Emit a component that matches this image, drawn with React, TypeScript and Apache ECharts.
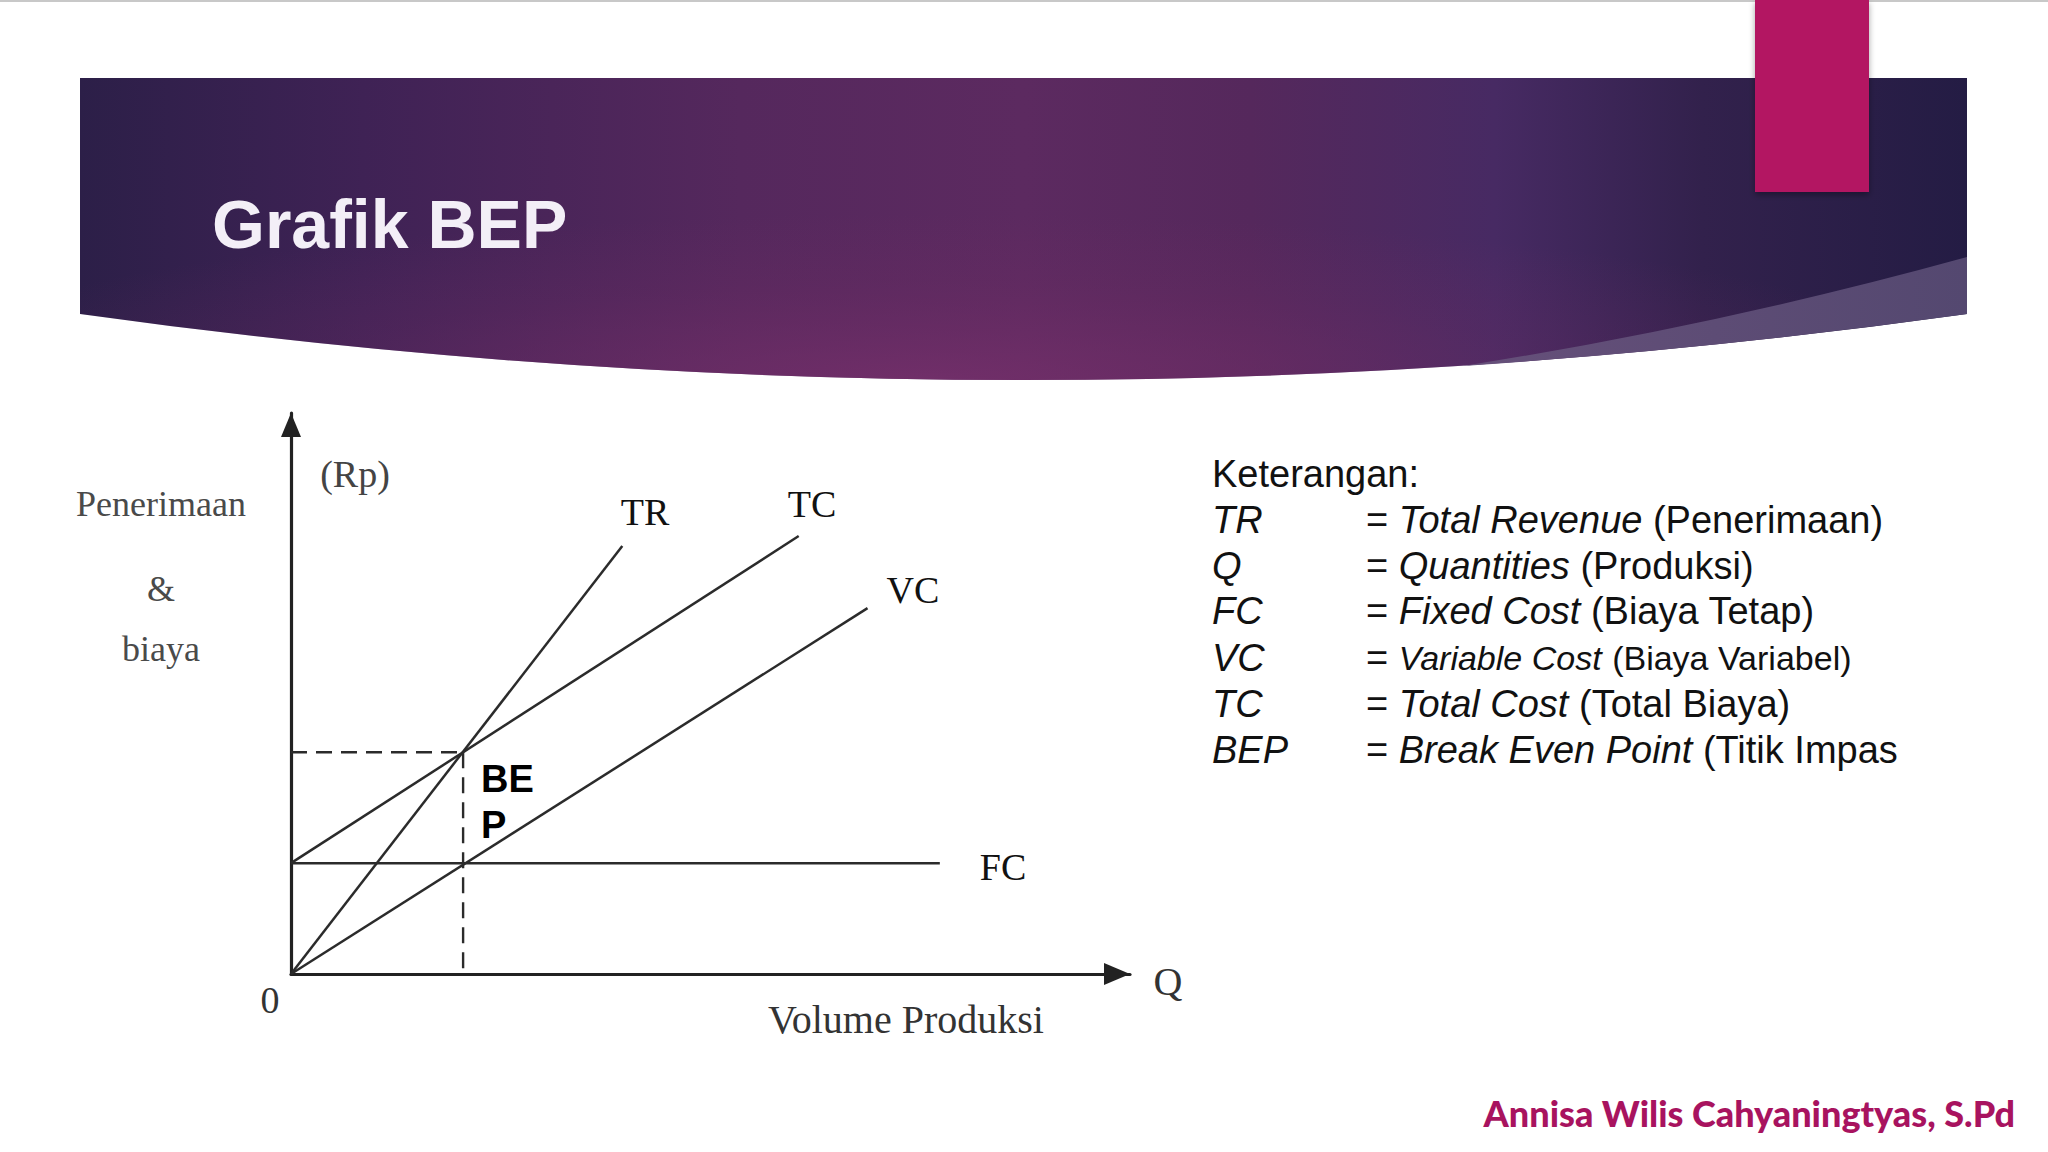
import React, { useEffect, useRef } from "react";
import * as echarts from "echarts";

// ---------- content ----------
const TITLE = "Grafik BEP";
const AUTHOR = "Annisa Wilis Cahyaningtyas, S.Pd";

// line end points in (Q, Rp) units
const TR_LINE = [[0, 0], [7.7, 19.3]];
const TC_LINE = [[0, 5], [11.8, 19.75]];
const VC_LINE = [[0, 0], [13.4, 16.5]];
const FC_LINE = [[0, 5], [15.08, 5]];
const BEP_H = [[0, 10], [4, 10]];
const BEP_V = [[4, 10], [4, 0]];
const X_MAX = 19.5;
const Y_MAX = 25.3;

const LINE_NAMES = ["TR", "TC", "VC", "FC"];
const Y_TITLE = ["Penerimaan", "&", "biaya"];
const LEGEND_HEAD = "Keterangan:";
const LEGEND_ABBR = ["TR", "Q", "FC", "VC", "TC", "BEP"];
const LEGEND_TERM = ["Total Revenue", "Quantities", "Fixed Cost", "Variable Cost", "Total Cost", "Break Even Point"];
const LEGEND_DESC = ["(Penerimaan)", "(Produksi)", "(Biaya Tetap)", "(Biaya Variabel)", "(Total Biaya)", "(Titik Impas"];

// ---------- shapes ----------
const BANNER_D = "M80 78 L1967 78 L1967 314 Q1023 446 80 314 Z";
const WEDGE_D = "M1967 257 Q1717 326 1463 366 Q1715 349 1967 314 Z";
echarts.graphic.registerShape("bannerShape", echarts.graphic.extendPath(BANNER_D, {}));
echarts.graphic.registerShape("wedgeShape", echarts.graphic.extendPath(WEDGE_D, {}));

const SERIF = "'Liberation Serif', 'DejaVu Serif', serif";
const SANS = "'Liberation Sans', Arial, sans-serif";

export default function App() {
  const ref = useRef<HTMLDivElement>(null);

  useEffect(() => {
    if (!ref.current) return;
    const chart = echarts.init(ref.current, undefined, { renderer: "svg" });

    const lineColor = "#2b2b2b";
    const mkLine = (name: string, data: number[][], dashed = false) => ({
      type: "line",
      name,
      data,
      symbol: "none",
      silent: true,
      lineStyle: { color: lineColor, width: dashed ? 2.4 : 2.5, type: dashed ? [16, 9] : "solid" },
      z: 3,
    });

    const legendRows: any[] = [];
    const rowY = [520, 566, 611, 658, 704, 750];
    LEGEND_ABBR.forEach((a, i) => {
      const fs = i === 3 ? 34 : 38;
      legendRows.push({
        type: "text",
        x: 1212,
        y: rowY[i],
        style: {
          text: a,
          fontFamily: SANS,
          fontSize: 38,
          fontStyle: "italic",
          fill: "#111",
          textVerticalAlign: "middle",
        },
      });
      legendRows.push({
        type: "text",
        x: 1366,
        y: rowY[i],
        style: {
          text: "= {i|" + LEGEND_TERM[i] + "} {n|" + LEGEND_DESC[i] + "}",
          fontFamily: SANS,
          fontSize: 38,
          fill: "#111",
          textVerticalAlign: "middle",
          rich: {
            i: { fontFamily: SANS, fontSize: fs, fontStyle: "italic", fill: "#111" },
            n: { fontFamily: SANS, fontSize: fs, fill: "#111" },
          },
        },
      });
    });

    const labelPos = [
      [645, 512],
      [812, 504],
      [913, 590],
      [1003, 867],
    ];

    const option: any = {
      animation: false,
      backgroundColor: "#ffffff",
      grid: { left: 291, top: 413, width: 839, height: 561 },
      xAxis: {
        type: "value",
        min: 0,
        max: X_MAX,
        axisLine: {
          show: true,
          symbol: ["none", "triangle"],
          symbolSize: [22, 26],
          symbolOffset: [0, -13],
          lineStyle: { color: "#222", width: 3.2 },
        },
        axisTick: { show: false },
        axisLabel: { show: false },
        splitLine: { show: false },
      },
      yAxis: {
        type: "value",
        min: 0,
        max: Y_MAX,
        axisLine: {
          show: true,
          symbol: ["none", "triangle"],
          symbolSize: [20, 24],
          symbolOffset: [0, -12],
          lineStyle: { color: "#222", width: 3.2 },
        },
        axisTick: { show: false },
        axisLabel: { show: false },
        splitLine: { show: false },
      },
      series: [
        mkLine("TR", TR_LINE),
        mkLine("TC", TC_LINE),
        mkLine("VC", VC_LINE),
        mkLine("FC", FC_LINE),
        mkLine("BEP-h", BEP_H, true),
        mkLine("BEP-v", BEP_V, true),
      ],
      graphic: [
        { type: "rect", shape: { x: 0, y: 0, width: 2048, height: 2 }, style: { fill: "#c8c8c8" }, z: 1 },
        {
          type: "bannerShape",
          x: 0,
          y: 0,
          scaleX: 1,
          scaleY: 1,
          z: 1,
          style: {
            fill: new echarts.graphic.LinearGradient(0, 0, 1, 0, [
              { offset: 0, color: "#2c1f48" },
              { offset: 0.15, color: "#3f2255" },
              { offset: 0.35, color: "#55285d" },
              { offset: 0.5, color: "#5c2a60" },
              { offset: 0.62, color: "#55285c" },
              { offset: 0.75, color: "#472a63" },
              { offset: 0.86, color: "#32214c" },
              { offset: 1, color: "#241c44" },
            ]),
          },
        },
        {
          type: "bannerShape",
          x: 0,
          y: 0,
          scaleX: 1,
          scaleY: 1,
          z: 1,
          style: {
            fill: new echarts.graphic.RadialGradient(0.45, 1, 0.55, [
              { offset: 0, color: "rgba(120,48,108,0.75)" },
              { offset: 0.6, color: "rgba(110,44,100,0.25)" },
              { offset: 1, color: "rgba(110,44,100,0)" },
            ]),
          },
        },
        {
          type: "wedgeShape",
          x: 0,
          y: 0,
          scaleX: 1,
          scaleY: 1,
          z: 1,
          style: {
            fill: new echarts.graphic.LinearGradient(0, 0, 1, 0, [
              { offset: 0, color: "#66507a" },
              { offset: 1, color: "#544870" },
            ]),
          },
        },
        {
          type: "rect",
          shape: { x: 1755, y: 0, width: 114, height: 192 },
          style: { fill: "#b31462", shadowBlur: 6, shadowColor: "rgba(0,0,0,0.35)", shadowOffsetY: 3 },
          z: 2,
        },
        {
          type: "text",
          x: 212,
          y: 224,
          z: 2,
          style: {
            text: TITLE,
            fontFamily: SANS,
            fontWeight: "bold",
            fontSize: 68,
            fill: "#f3eff7",
            textVerticalAlign: "middle",
          },
        },
        // y-axis title
        ...Y_TITLE.map((t, i) => ({
          type: "text",
          x: 161,
          y: [504, 589, 649][i],
          style: { text: t, fontFamily: SERIF, fontSize: 36, fill: "#4a4a4a", textAlign: "center", textVerticalAlign: "middle" },
        })),
        {
          type: "text",
          x: 355,
          y: 474,
          style: { text: "(Rp)", fontFamily: SERIF, fontSize: 38, fill: "#444", textAlign: "center", textVerticalAlign: "middle" },
        },
        {
          type: "text",
          x: 270,
          y: 1000,
          style: { text: "0", fontFamily: SERIF, fontSize: 38, fill: "#333", textAlign: "center", textVerticalAlign: "middle" },
        },
        {
          type: "text",
          x: 1168,
          y: 981,
          style: { text: "Q", fontFamily: SERIF, fontSize: 40, fill: "#333", textAlign: "center", textVerticalAlign: "middle" },
        },
        {
          type: "text",
          x: 906,
          y: 1019,
          style: { text: "Volume Produksi", fontFamily: SERIF, fontSize: 40, fill: "#333", textAlign: "center", textVerticalAlign: "middle" },
        },
        ...LINE_NAMES.map((n, i) => ({
          type: "text",
          x: labelPos[i][0],
          y: labelPos[i][1],
          style: { text: n, fontFamily: SERIF, fontSize: 38, fill: "#111", textAlign: "center", textVerticalAlign: "middle" },
        })),
        {
          type: "text",
          x: 481,
          y: 779,
          style: { text: "BE", fontFamily: SANS, fontWeight: "bold", fontSize: 38, fill: "#000", textVerticalAlign: "middle" },
        },
        {
          type: "text",
          x: 481,
          y: 825,
          style: { text: "P", fontFamily: SANS, fontWeight: "bold", fontSize: 38, fill: "#000", textVerticalAlign: "middle" },
        },
        {
          type: "text",
          x: 1212,
          y: 474,
          style: { text: LEGEND_HEAD, fontFamily: SANS, fontSize: 38, fill: "#111", textVerticalAlign: "middle" },
        },
        ...legendRows,
        {
          type: "text",
          x: 2015,
          y: 1113,
          style: {
            text: AUTHOR,
            fontFamily: "Lato, 'Noto Sans', sans-serif",
            fontWeight: 900,
            fontSize: 36,
            fill: "#a8135f",
            textAlign: "right",
            textVerticalAlign: "middle",
          },
        },
      ],
    };

    chart.setOption(option);
    return () => chart.dispose();
  }, []);

  return (
    <div
      ref={ref}
      style={{ position: "fixed", left: 0, top: 0, width: 2048, height: 1152, background: "#fff" }}
    />
  );
}
